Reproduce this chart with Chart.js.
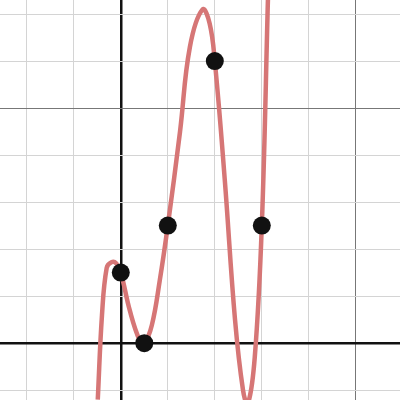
<!DOCTYPE html>
<html>
<head>
<meta charset="utf-8">
<script src="https://cdn.jsdelivr.net/npm/chart.js@4"></script>
<style>
  html, body { margin: 0; padding: 0; background: #fff; }
  #wrap { width: 400px; height: 400px; }
</style>
</head>
<body>
<div id="wrap"><canvas id="c"></canvas></div>
<script>
// curve
const curveX = [-0.49, -0.4, -0.3, -0.2, -0.1, 0, 0.19, 0.4, 0.5, 0.66, 0.83, 1, 1.26, 1.47, 1.74, 1.89, 2, 2.21, 2.43, 2.6, 2.7, 2.85, 3, 3.13];
const curveY = [-1.2, 0.6, 1.6, 1.72, 1.7, 1.5, 0.7, 0.06, 0, 0.38, 1.34, 2.5, 4.5, 6.3, 7.1, 6.8, 6, 3.5, 0.5, -1.0, -1.3, -0.3, 2.5, 7.3];
// marked points
const dotX = [0, 0.5, 1, 2, 3];
const dotY = [1.5, 0, 2.5, 6, 2.5];

const xRange = [-2.57, 5.94];
const yRange = [-1.21, 7.3];

const zip = (xs, ys) => xs.map((x, i) => ({ x, y: ys[i] }));

const gridColor = (ctx) => {
    const v = ctx.tick.value;
    if (Math.abs(v) < 1e-9) return '#111';
    if (Math.abs(v % 5) < 1e-9) return '#777';
    return '#d4d4d4';
};
const gridWidth = (ctx) => (Math.abs(ctx.tick.value) < 1e-9 ? 2.5 : 1);

const axis = (range) => ({
    type: 'linear',
    min: range[0],
    max: range[1],
    border: { display: false },
    grid: { color: gridColor, lineWidth: gridWidth, drawTicks: false },
    ticks: { display: false, stepSize: 1, padding: 0 },
    afterBuildTicks: (scale) => {
        const ticks = [];
        for (let v = Math.ceil(range[0]); v <= range[1]; v++) ticks.push({ value: v });
        scale.ticks = ticks;
    }
});

new Chart(document.getElementById('c'), {
    type: 'scatter',
    data: {
        datasets: [
            {
                data: zip(dotX, dotY),
                showLine: false,
                pointRadius: 9,
                pointBackgroundColor: '#111',
                pointBorderWidth: 0,
                order: 0
            },
            {
                data: zip(curveX, curveY),
                showLine: true,
                tension: 0.4,
                borderColor: 'rgb(214,118,118)',
                borderWidth: 4.5,
                pointRadius: 0,
                order: 1
            }
        ]
    },
    options: {
        responsive: true,
        maintainAspectRatio: false,
        animation: false,
        layout: { padding: 0, autoPadding: false },
        plugins: { legend: { display: false }, tooltip: { enabled: false } },
        scales: { x: axis(xRange), y: axis(yRange) }
    }
});
</script>
</body>
</html>
